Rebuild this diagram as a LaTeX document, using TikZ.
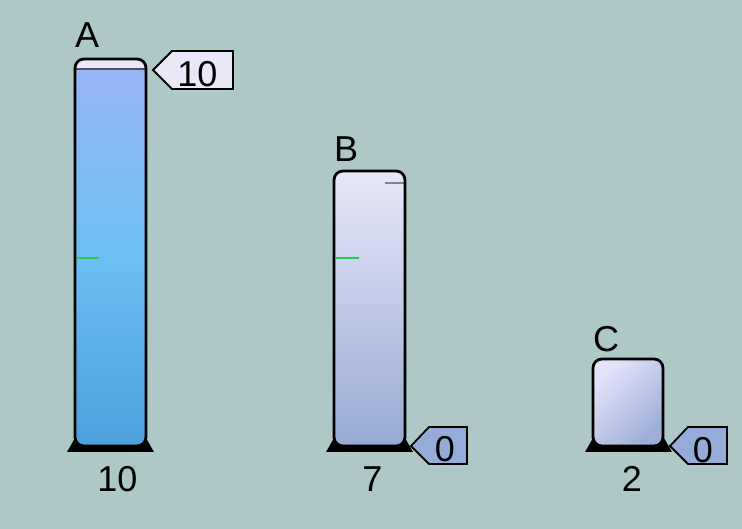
\documentclass[tikz,border=0pt]{standalone}
\usepackage{fontspec}
\setmainfont{Liberation Sans}
\begin{document}
\begin{tikzpicture}[x=1pt,y=1pt,
  tank/.style={draw=black,line width=2.8pt,rounded corners=9pt},
  base/.style={fill=black},
  flag/.style={draw=black,line width=1.8pt,line join=miter},
  lbl/.style={inner sep=0pt,outer sep=0pt,font=\fontsize{36}{36}\selectfont}]
\definecolor{bgColor}{RGB}{174,200,200}
\path[use as bounding box,fill=bgColor] (0,0) rectangle (742,529);

% tank A
\definecolor{topColor}{RGB}{152,180,245}
\definecolor{midColor}{RGB}{108,192,244}
\definecolor{botColor}{RGB}{76,160,220}
\definecolor{capColor}{RGB}{232,232,248}
\path[base] ( 67, 77) -- (154, 77) -- (146, 91) -- ( 75, 91) -- cycle;
\path[top color=topColor,bottom color=botColor,middle color=midColor,rounded corners=9pt] ( 75, 83) rectangle (146,470);
\begin{scope}
\path[clip,rounded corners=9pt] ( 75, 83) rectangle (146,470);
\path[fill=capColor] ( 75,460) rectangle (146,471);
\path[draw={rgb,255:red,80;green,80;blue,100},line width=1.5pt] ( 75,460) -- (146,460);
\end{scope}
\path[draw={rgb,255:red,40;green,200;blue,80},line width=1.2pt] ( 77,271) -- ( 99,271);
\path[tank] ( 75, 83) rectangle (146,470);

% tank B
\definecolor{topColor}{RGB}{232,232,248}
\definecolor{botColor}{RGB}{150,170,212}
\path[base] (326, 77) -- (413, 77) -- (405, 91) -- (334, 91) -- cycle;
\path[top color=topColor,bottom color=botColor,rounded corners=9pt] (334, 83) rectangle (405,358);
\path[draw={rgb,255:red,130;green,130;blue,150},line width=1.5pt] (385,346) -- (404,346);
\path[draw={rgb,255:red,40;green,200;blue,80},line width=1.2pt] (336,271) -- (359,271);
\path[tank] (334, 83) rectangle (405,358);

% tank C
\definecolor{topColor}{RGB}{228,228,250}
\definecolor{botColor}{RGB}{158,174,216}
\path[base] (585, 77) -- (672, 77) -- (664, 91) -- (593, 91) -- cycle;
\path[left color=topColor,right color=botColor,shading angle=45,rounded corners=9pt] (593, 83) rectangle (663,170);
\path[tank] (593, 83) rectangle (663,170);

% flags
\definecolor{flagLight}{RGB}{232,232,248}
\definecolor{flagDark}{RGB}{150,172,216}
\path[flag,fill=flagLight] (153,459) -- (172,478) -- (233,478) -- (233,440) -- (172,440) -- cycle;
\path[flag,fill=flagDark] (411, 83) -- (429,102) -- (467,102) -- (467, 65) -- (429, 65) -- cycle;
\path[flag,fill=flagDark] (670, 83) -- (688,102) -- (727,102) -- (727, 65) -- (688, 65) -- cycle;
\node[lbl,anchor=base] (flagA) at (197.5,442) {10};
\node[lbl,anchor=base] (flagB) at (445, 67) {0};
\node[lbl,anchor=base] (flagC) at (703, 66) {0};

% names
\node[lbl,anchor=base west] (nameA) at ( 75,481) {A};
\node[lbl,anchor=base west] (nameB) at (334,367) {B};
\node[lbl,anchor=base west] (nameC) at (593,177) {C};

% levels
\node[lbl,anchor=base] (levelA) at (117.5,37) {10};
\node[lbl,anchor=base] (levelB) at (372.5,37) {7};
\node[lbl,anchor=base] (levelC) at (632,37) {2};
\end{tikzpicture}
\end{document}
